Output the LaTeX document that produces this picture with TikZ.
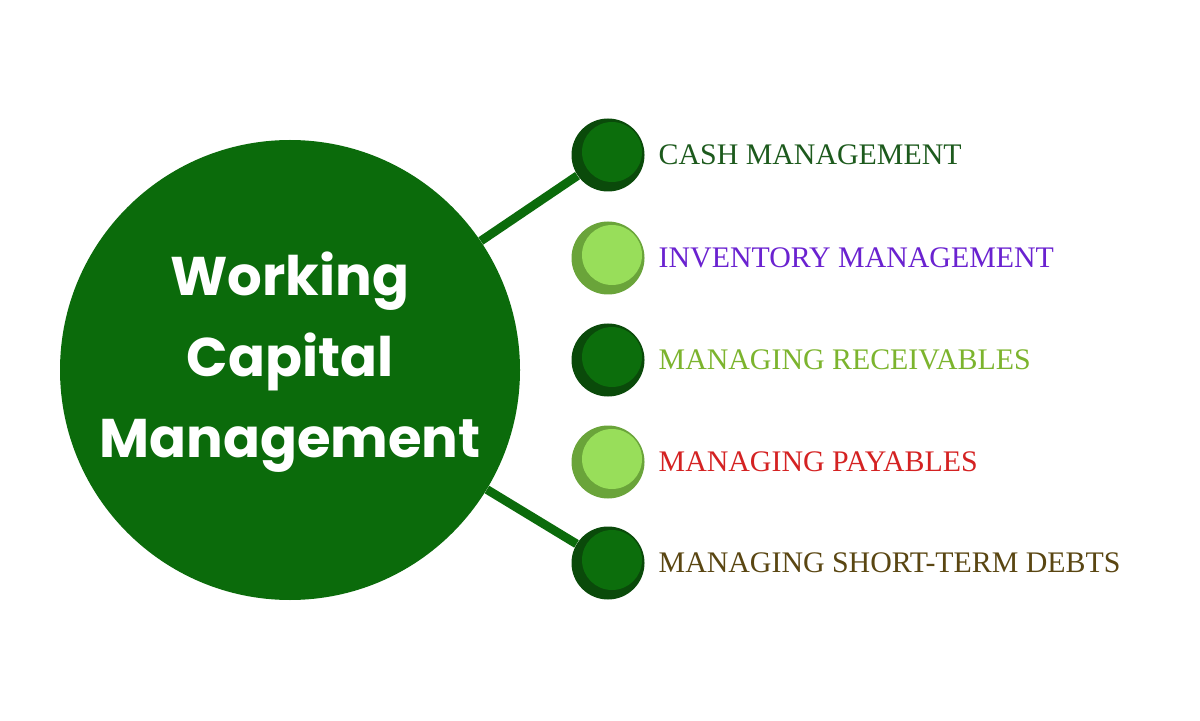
\documentclass[tikz,border=0pt]{standalone}
\usepackage{fontspec}
\setmainfont{Liberation Serif}
\newfontfamily\titlefont{Poppins}
\usetikzlibrary{positioning}
\definecolor{bigGreen}{HTML}{0B6B0B}
\definecolor{darkRim}{HTML}{0A4A0A}
\definecolor{darkCore}{HTML}{0C6E0C}
\definecolor{lightRim}{HTML}{6AA43A}
\definecolor{lightCore}{HTML}{98DE5A}
\definecolor{txtGreen}{HTML}{1D5A1D}
\definecolor{txtPurple}{HTML}{6A22D0}
\definecolor{txtLight}{HTML}{7CB42E}
\definecolor{txtRed}{HTML}{D42222}
\definecolor{txtOlive}{HTML}{5A4612}
\tikzset{
  darkdot/.style={circle, fill=darkRim, minimum size=1.46cm, inner sep=0pt},
  lightdot/.style={circle, fill=lightRim, minimum size=1.46cm, inner sep=0pt},
  itemtext/.style={anchor=west, font=\fontsize{17}{20}\selectfont},
}
\begin{document}
\begin{tikzpicture}
  \useasboundingbox (0,0) rectangle (24,14.4);
  \node (hub) [circle, fill=bigGreen, minimum size=9.2cm, inner sep=0pt] at (5.8,7.0) {};
  \node (title) at (5.8,7.15) [align=center, text=white, font=\titlefont\bfseries\fontsize{31}{46}\selectfont] {Working\\Capital\\Management};

  \node (b1) [darkdot] at (12.16,11.3) {};
  \node (b2) [lightdot] at (12.16,9.24) {};
  \node (b3) [darkdot] at (12.16,7.2) {};
  \node (b4) [lightdot] at (12.16,5.16) {};
  \node (b5) [darkdot] at (12.16,3.14) {};

  \draw [line width=5pt, bigGreen] (hub) -- (b1);
  \draw [line width=5pt, bigGreen] (hub) -- (b5);

  % inner highlights
  \foreach \b/\c in {b1/darkCore, b2/lightCore, b3/darkCore, b4/lightCore, b5/darkCore}
    \fill [\c] ([shift={(0.08,0.06)}]\b.center) circle (0.6cm);

  \node [itemtext, text=txtGreen] at (13.05,11.3) {CASH MANAGEMENT};
  \node [itemtext, text=txtPurple] at (13.05,9.24) {INVENTORY MANAGEMENT};
  \node [itemtext, text=txtLight] at (13.05,7.2) {MANAGING RECEIVABLES};
  \node [itemtext, text=txtRed] at (13.05,5.16) {MANAGING PAYABLES};
  \node [itemtext, text=txtOlive] at (13.05,3.14) {MANAGING SHORT-TERM DEBTS};
\end{tikzpicture}
\end{document}
